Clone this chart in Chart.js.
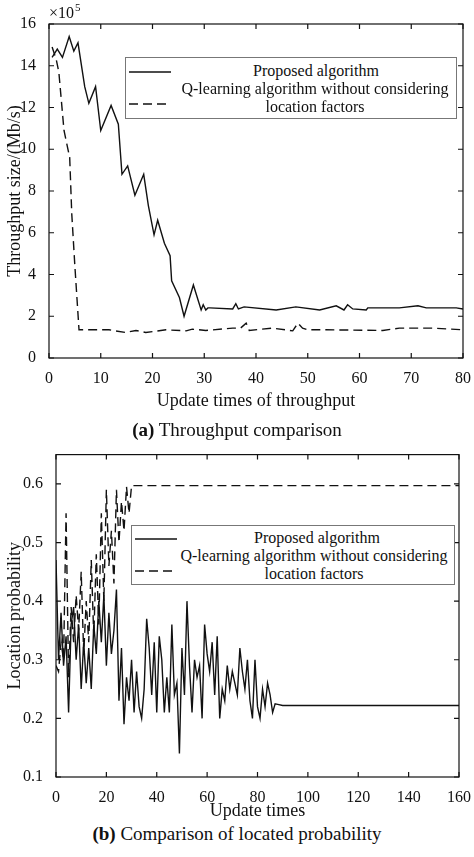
<!DOCTYPE html>
<html><head><meta charset="utf-8">
<script src="https://cdn.jsdelivr.net/npm/chart.js@4/dist/chart.umd.min.js"></script>
<style>
body{margin:0;background:#fff;width:474px;height:857px;position:relative;overflow:hidden;font-family:"Liberation Serif",serif;color:#111}
canvas{position:absolute;left:0}
.cap{position:absolute;left:0;width:474px;text-align:center;font-size:19px}
.leg{position:absolute;border:1px solid #777;background:#fff;font-size:16px;line-height:18px}
.txt{position:absolute;text-align:center}
</style></head><body>
<canvas id="c1" width="474" height="412" style="top:0"></canvas>
<canvas id="c2" width="474" height="382" style="top:440px"></canvas>
<div class="cap" style="top:419px"><b>(a)</b> Throughput comparison</div>
<div class="cap" style="top:823px"><b>(b)</b> Comparison of located probability</div>
<div class="leg" style="left:125px;top:57px;width:330px;height:60px">
 <svg style="position:absolute;left:3px;top:12px" width="42" height="4"><line x1="0" y1="2" x2="42" y2="2" stroke="#111" stroke-width="1.5"/></svg>
 <svg style="position:absolute;left:3px;top:44px" width="42" height="4"><line x1="0" y1="2" x2="42" y2="2" stroke="#111" stroke-width="1.5" stroke-dasharray="9,5"/></svg>
 <div class="txt" style="left:55px;width:270px;top:4px">Proposed algorithm</div>
 <div class="txt" style="left:44px;width:290px;top:22px">Q-learning algorithm without considering<br>location factors</div>
</div>
<div class="leg" style="left:131px;top:525px;width:322px;height:58px">
 <svg style="position:absolute;left:3px;top:11px" width="42" height="4"><line x1="0" y1="2" x2="42" y2="2" stroke="#111" stroke-width="1.5"/></svg>
 <svg style="position:absolute;left:3px;top:43px" width="42" height="4"><line x1="0" y1="2" x2="42" y2="2" stroke="#111" stroke-width="1.5" stroke-dasharray="9,5"/></svg>
 <div class="txt" style="left:55px;width:260px;top:3px">Proposed algorithm</div>
 <div class="txt" style="left:42px;width:280px;top:21px">Q-learning algorithm without considering<br>location factors</div>
</div>
<script>
// ---- Chart (a) data ----
const thrPropX=[0.6,1.6,2.6,3.9,4.8,5.6,6.9,7.7,9,10,12,13.4,14.1,15.2,16.6,18.3,19.2,20.3,21,22.3,23.4,23.7,25.2,26.1,27.9,29.4,29.8,30.3,30.7,31.1,35.5,36.1,36.6,37.7,43.9,47.7,52.3,55.5,57,57.7,58.7,61.3,61.6,67.7,71.3,72.9,78.7,80];
const thrPropY=[14.4,14.8,14.4,15.4,14.7,15.1,13,12.2,13,10.9,12.1,11.2,8.8,9.2,7.8,8.8,7.3,5.9,6.6,5.5,4.9,3.7,2.9,2.0,3.5,2.3,2.55,2.3,2.4,2.4,2.35,2.6,2.35,2.45,2.3,2.45,2.3,2.5,2.3,2.55,2.35,2.3,2.4,2.4,2.5,2.4,2.4,2.35];
const thrQX=[0.6,1.4,1.9,2.9,4,4.4,5,5.8,11.6,14.8,16.8,18.7,22.6,26.5,27.7,30.3,35.5,37,38.1,38.7,43.2,47.1,48.1,49,50,53.5,64.5,67.7,74.2,80];
const thrQY=[14.9,14.3,13.7,10.9,9.6,6.9,4.4,1.35,1.35,1.22,1.32,1.22,1.35,1.3,1.38,1.32,1.43,1.43,1.67,1.32,1.43,1.3,1.67,1.43,1.35,1.35,1.32,1.43,1.43,1.35];
const thrXTicks=[0,10,20,30,40,50,60,70,80];
const thrYTicks=[0,2,4,6,8,10,12,14,16];
// ---- Chart (b) data ----
const locPropX=[0,1,2,3,4,5,6,7,8,9,10,11,12,13,14,15,16,17,18,19,20,21,22,23,24,25,26,27,28,29,30,31,32,33,34,35,36,37,38,39,40,41,42,43,44,45,46,47,48,49,50,51,52,53,54,55,56,57,58,59,60,61,62,63,64,65,66,67,68,69,70,71,72,73,74,75,76,77,78,79,80,81,82,83,84,85,86,87,88,90,160];
const locPropY=[0.47,0.30,0.38,0.29,0.34,0.21,0.36,0.39,0.30,0.36,0.25,0.33,0.26,0.32,0.25,0.36,0.31,0.40,0.33,0.41,0.29,0.38,0.31,0.35,0.42,0.23,0.32,0.19,0.27,0.23,0.30,0.21,0.28,0.22,0.20,0.25,0.37,0.32,0.24,0.33,0.21,0.34,0.30,0.21,0.27,0.21,0.36,0.24,0.26,0.14,0.32,0.24,0.40,0.29,0.21,0.30,0.27,0.29,0.20,0.36,0.31,0.28,0.33,0.24,0.34,0.20,0.25,0.23,0.29,0.25,0.28,0.26,0.24,0.32,0.28,0.25,0.30,0.23,0.20,0.30,0.22,0.20,0.25,0.22,0.26,0.24,0.21,0.225,0.224,0.222,0.222];
const locQX=[0,1,2,3,4,5,6,7,8,9,10,11,12,13,14,15,16,17,18,19,20,21,22,23,24,25,26,27,28,29,30,160];
const locQY=[0.29,0.28,0.33,0.30,0.55,0.27,0.39,0.33,0.41,0.35,0.45,0.31,0.40,0.33,0.47,0.34,0.48,0.36,0.55,0.40,0.59,0.46,0.52,0.43,0.59,0.50,0.57,0.52,0.595,0.55,0.597,0.597];
const locXTicks=[0,20,40,60,80,100,120,140,160];
const locYTicks=[0.1,0.2,0.3,0.4,0.5,0.6];

const F='"Liberation Serif", serif';
const pts=(xs,ys)=>xs.map((x,i)=>({x,y:ys[i]}));
const frame={id:'frame',afterDraw(ch){
  const {ctx,chartArea:a,scales:{x,y}}=ch;
  ctx.save();ctx.strokeStyle='#111';ctx.lineWidth=1.2;
  ctx.strokeRect(a.left,a.top,a.right-a.left,a.bottom-a.top);
  ctx.beginPath();
  x.ticks.forEach(t=>{const p=x.getPixelForValue(t.value);ctx.moveTo(p,a.bottom);ctx.lineTo(p,a.bottom-5);ctx.moveTo(p,a.top);ctx.lineTo(p,a.top+5);});
  y.ticks.forEach(t=>{const p=y.getPixelForValue(t.value);ctx.moveTo(a.left,p);ctx.lineTo(a.left+5,p);ctx.moveTo(a.right,p);ctx.lineTo(a.right-5,p);});
  ctx.stroke();
  if(ch.options.plugins.frame&&ch.options.plugins.frame.exp){
    ctx.fillStyle='#111';ctx.font='16px '+F;ctx.textBaseline='alphabetic';
    ctx.fillText('×10',a.left,a.top-6);const w=ctx.measureText('×10').width;
    ctx.font='11px '+F;ctx.fillText('5',a.left+w+1,a.top-13);
  }
  ctx.restore();}};
function make(id,ds,xT,yT,xmin,xmax,ymin,ymax,xTitle,yTitle,pad,xH,yW,exp,dec){
  new Chart(document.getElementById(id),{type:'line',
   data:{datasets:ds.map((d,i)=>({data:d,borderColor:'#111',borderWidth:1.4,pointRadius:0,tension:0,borderDash:i?[9,5]:[]}))},
   options:{responsive:false,animation:false,layout:{padding:pad},
    plugins:{legend:{display:false},tooltip:{enabled:false},frame:{exp}},
    scales:{
     x:{type:'linear',min:xmin,max:xmax,grid:{display:false},border:{display:false},
        afterBuildTicks:s=>{s.ticks=xT.map(v=>({value:v}))},afterFit:s=>{s.height=xH},
        ticks:{color:'#111',font:{family:F,size:16},padding:3,maxRotation:0,callback:v=>String(v)},
        title:{display:true,text:xTitle,color:'#111',font:{family:F,size:18},padding:{top:0,bottom:0}}},
     y:{min:ymin,max:ymax,grid:{display:false},border:{display:false},
        afterBuildTicks:s=>{s.ticks=yT.map(v=>({value:v}))},afterFit:s=>{s.width=yW},
        ticks:{color:'#111',font:{family:F,size:16},padding:5,callback:v=>dec?v.toFixed(1):String(v)},
        title:{display:true,text:yTitle,color:'#111',font:{family:F,size:18},padding:{bottom:0}}}}},
   plugins:[frame]});
}
make('c1',[pts(thrPropX,thrPropY),pts(thrQX,thrQY)],thrXTicks,thrYTicks,0,80,0,16,'Update times of throughput','Throughput size/(Mb/s)',{top:24,right:11,left:0,bottom:0},54,49,true,false);
make('c2',[pts(locPropX,locPropY),pts(locQX,locQY)],locXTicks,locYTicks,0,160,0.1,0.65,'Update times','Location probability',{top:11,right:15,left:0,bottom:0},45,56,false,true);
</script></body></html>
